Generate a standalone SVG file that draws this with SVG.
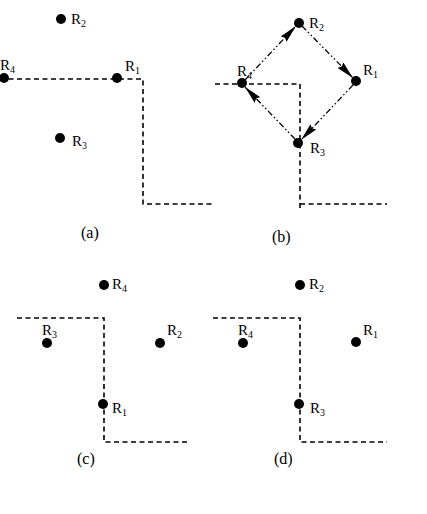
<svg xmlns="http://www.w3.org/2000/svg" width="427" height="514" viewBox="0 0 427 514">
<style>
.bd{fill:none;stroke:#000;stroke-width:1.6;stroke-dasharray:5,3.5}
.dot{fill:#000}
.lb{font-family:"Liberation Serif",serif;font-size:15px;fill:#000}
.sb{font-size:10px}
.cap{font-family:"Liberation Serif",serif;font-size:16px;fill:#000}
.ar{fill:none;stroke:#000;stroke-width:1.3;stroke-dasharray:6,2.5,1.5,2.5,1.5,2.5}
</style>
<defs>
<marker id="ah" viewBox="0 0 18 8" refX="18" refY="4" markerWidth="18" markerHeight="8" markerUnits="userSpaceOnUse" orient="auto">
<path d="M0,0 L18,4 L0,8 L2,4 Z" fill="#000"/>
</marker>
</defs>
<rect width="427" height="514" fill="#fff"/>
<g id="boundaries">
<path class="bd" d="M0,79 H143 V204 H215"/>
<path class="bd" d="M215,84 H300 V208 M300,204 H387"/>
<path class="bd" d="M17,318 H104 V442 H190"/>
<path class="bd" d="M213,318 H300 V442 H387"/>
</g>
<g id="connectors">
<line class="ar" x1="245" y1="80" x2="296" y2="26" marker-end="url(#ah)"/>
<line class="ar" x1="302" y1="26" x2="353" y2="78" marker-end="url(#ah)"/>
<line class="ar" x1="353" y1="85" x2="301" y2="140" marker-end="url(#ah)"/>
<line class="ar" x1="295" y1="139" x2="245" y2="87" marker-end="url(#ah)"/>
</g>
<g id="panel-a">
<g id="a-R2"><circle class="dot" cx="61" cy="19" r="5"/><text class="lb" x="71" y="24">R<tspan class="sb" dy="3">2</tspan></text></g>
<g id="a-R4"><circle class="dot" cx="4" cy="78" r="5"/><text class="lb" x="0" y="70">R<tspan class="sb" dy="3">4</tspan></text></g>
<g id="a-R1"><circle class="dot" cx="117" cy="78" r="5"/><text class="lb" x="125" y="71">R<tspan class="sb" dy="3">1</tspan></text></g>
<g id="a-R3"><circle class="dot" cx="60" cy="138" r="5"/><text class="lb" x="72" y="146">R<tspan class="sb" dy="3">3</tspan></text></g>
<text class="cap" x="81" y="238">(a)</text>
</g>
<g id="panel-b">
<g id="b-R2"><circle class="dot" cx="299" cy="23" r="5"/><text class="lb" x="309" y="28">R<tspan class="sb" dy="3">2</tspan></text></g>
<g id="b-R1"><circle class="dot" cx="356" cy="81" r="5"/><text class="lb" x="363" y="75">R<tspan class="sb" dy="3">1</tspan></text></g>
<g id="b-R4"><circle class="dot" cx="242" cy="83" r="5"/><text class="lb" x="237" y="76">R<tspan class="sb" dy="3">4</tspan></text></g>
<g id="b-R3"><circle class="dot" cx="298" cy="143" r="5"/><text class="lb" x="310" y="153">R<tspan class="sb" dy="3">3</tspan></text></g>
<text class="cap" x="272" y="242">(b)</text>
</g>
<g id="panel-c">
<g id="c-R4"><circle class="dot" cx="104" cy="285" r="5"/><text class="lb" x="112" y="289">R<tspan class="sb" dy="3">4</tspan></text></g>
<g id="c-R3"><circle class="dot" cx="47" cy="343" r="5"/><text class="lb" x="42" y="335">R<tspan class="sb" dy="3">3</tspan></text></g>
<g id="c-R2"><circle class="dot" cx="160" cy="343" r="5"/><text class="lb" x="167" y="335">R<tspan class="sb" dy="3">2</tspan></text></g>
<g id="c-R1"><circle class="dot" cx="103" cy="404" r="5"/><text class="lb" x="112" y="413">R<tspan class="sb" dy="3">1</tspan></text></g>
<text class="cap" x="77" y="464">(c)</text>
</g>
<g id="panel-d">
<g id="d-R2"><circle class="dot" cx="300" cy="285" r="5"/><text class="lb" x="309" y="289">R<tspan class="sb" dy="3">2</tspan></text></g>
<g id="d-R4"><circle class="dot" cx="243" cy="343" r="5"/><text class="lb" x="238" y="335">R<tspan class="sb" dy="3">4</tspan></text></g>
<g id="d-R1"><circle class="dot" cx="356" cy="342" r="5"/><text class="lb" x="363" y="335">R<tspan class="sb" dy="3">1</tspan></text></g>
<g id="d-R3"><circle class="dot" cx="299" cy="404" r="5"/><text class="lb" x="310" y="413">R<tspan class="sb" dy="3">3</tspan></text></g>
<text class="cap" x="274" y="464">(d)</text>
</g>
</svg>
